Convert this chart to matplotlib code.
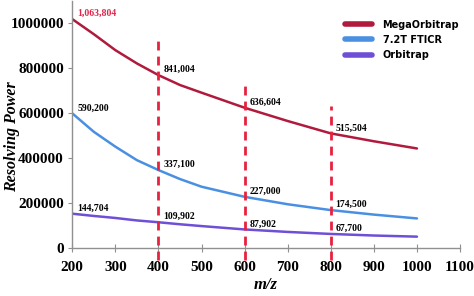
import matplotlib
matplotlib.use('Agg')
from matplotlib import pyplot as plt

# m/z grid and curve values
mz = [200, 250, 300, 350, 400, 450, 500, 600, 700, 800, 900, 1000]
mega_orbitrap = [1019000, 952000, 881000, 822000, 770000, 726000, 692000,
                 625000, 566000, 511000, 476000, 444000]
fticr = [600000, 518000, 452000, 392000, 348000, 308000, 274000,
         229000, 196000, 170000, 150000, 133000]
orbitrap = [154000, 144000, 135000, 124000, 116000, 107000, 99000,
            84000, 73000, 64000, 57000, 52000]

series_names = ['MegaOrbitrap', '7.2T FTICR', 'Orbitrap']
series_colors = ['#b01a3c', '#4a90e2', '#6e4fd6']

# marker lines and annotated values
mark_mz = [400, 600, 800]
mark_top = [930000, 744000, 632000]
label_mz = [200, 400, 600, 800]
mega_labels = ['1,063,804', '841,004', '636,604', '515,504']
fticr_labels = ['590,200', '337,100', '227,000', '174,500']
orbitrap_labels = ['144,704', '109,902', '87,902', '67,700']

xticks = list(range(200, 1101, 100))
yticks = list(range(0, 1000001, 200000))

serif = 'Liberation Serif'

fig = plt.figure(figsize=(4.74, 2.96), dpi=100)
ax = fig.add_axes([0.1525, 0.161, 0.818, 0.836])

all_series = [mega_orbitrap, fticr, orbitrap]
for vals, name, col in zip(all_series, series_names, series_colors):
    ax.plot(mz, vals, color=col, lw=1.8, label=name,
            solid_capstyle='round', solid_joinstyle='round', zorder=2)

for x, top in zip(mark_mz, mark_top):
    ax.plot([x, x], [-50000, top], color='#e8213f', lw=2.0,
            ls=(0, (3.2, 2.2)), clip_on=False, zorder=3)

label_sets = [mega_labels, fticr_labels, orbitrap_labels]
for vals, texts in zip(all_series, label_sets):
    for x, t in zip(label_mz, texts):
        y = vals[mz.index(x)]
        col = '#e0254a' if t == '1,063,804' else 'black'
        ax.annotate(t, (x, y), xytext=(3.5, 4.0), textcoords='offset points',
                    fontsize=7, fontweight='bold', family=serif, color=col,
                    va='center', ha='left', zorder=4)

ax.set_xlim(200, 1100)
ax.set_ylim(0, 1100000)
ax.set_xticks(xticks)
ax.set_yticks(yticks)
ax.set_xticklabels([str(v) for v in xticks], fontsize=11, fontweight='bold', family=serif)
ax.set_yticklabels([str(v) for v in yticks], fontsize=11, fontweight='bold', family=serif)
ax.tick_params(axis='x', direction='inout', length=6, color='#909090', pad=6)
ax.tick_params(axis='y', direction='out', length=3, color='#909090', pad=3)

for s in ['top', 'right']:
    ax.spines[s].set_visible(False)
for s in ['left', 'bottom']:
    ax.spines[s].set_color('#909090')
    ax.spines[s].set_linewidth(1.0)

ax.set_ylabel('Resolving Power', fontsize=11.5, fontweight='bold', style='italic',
              family=serif)
ax.yaxis.set_label_coords(-0.136, 0.45)
ax.set_xlabel('m/z', fontsize=12, fontweight='bold', style='italic', family=serif,
              labelpad=2)

leg = ax.legend(loc='upper left', bbox_to_anchor=(0.68, 0.96), frameon=False,
                prop={'weight': 'bold', 'size': 7, 'family': 'DejaVu Sans'},
                handlelength=2.8, handletextpad=1.1, labelspacing=0.55)
for h in leg.get_lines():
    h.set_linewidth(4)

fig.savefig('out.png', dpi=100)
